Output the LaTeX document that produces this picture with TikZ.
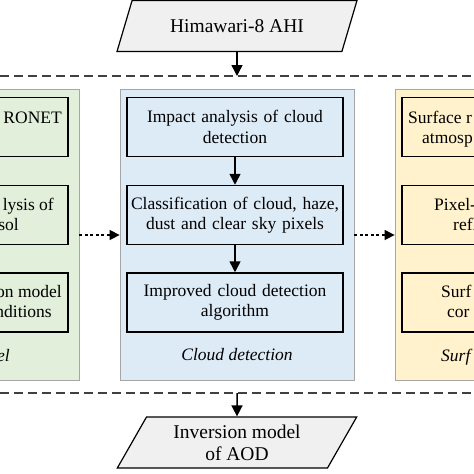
\documentclass[tikz,border=0pt]{standalone}
\usepackage{fontspec}
\setmainfont{Liberation Serif}
\usetikzlibrary{shapes.geometric,arrows.meta}

\definecolor{modfill}{RGB}{226,239,218}
\definecolor{detfill}{RGB}{221,235,247}
\definecolor{surffill}{RGB}{255,242,204}

\begin{document}
\begin{tikzpicture}[x=1pt,y=-1pt,font=\fontsize{17.5}{20.5}\selectfont,
    panel/.style={draw=black!35,line width=.8pt,minimum width=234pt,minimum height=291pt,inner sep=0pt},
    stage/.style={draw,line width=1.5pt,minimum width=216pt,minimum height=59pt,text width=210pt,align=center,inner sep=0pt},
    io/.style={trapezium,trapezium left angle=63,trapezium right angle=117,trapezium stretches=true,
      draw,line width=1.2pt,fill=black!6,minimum width=240pt,minimum height=51pt,align=center,
      font=\fontsize{19.5}{22}\selectfont},
    flow/.style={-{Triangle[length=11pt,width=11pt]},line width=1.5pt},
    link/.style={-{Triangle[length=10pt,width=10pt]},line width=1.5pt,dash pattern=on 3pt off 2.5pt},
    sep/.style={draw=black!75,line width=1.5pt,dash pattern=on 9pt off 5pt},
    tag/.style={font=\fontsize{17.5}{20.5}\selectfont\itshape}]
  \path[use as bounding box] (0,0) rectangle (474,474);
  \clip (0,0) rectangle (474,474);

  % input / output
  \node[io] (ahi) at (237,26) {Himawari-8 AHI};
  \node[io] (aod) at (237,442.5) {Inversion model\\of AOD};
  \coordinate (tl) at (0,76);   \coordinate (tr) at (474,76);
  \coordinate (bl) at (0,393);  \coordinate (br) at (474,393);

  % the three panels
  \node[panel,fill=modfill] (modpanel) at (-38,234.5) {};
  \node[panel,fill=detfill] (detpanel) at (237,234.5) {};
  \node[panel,fill=surffill] (surfpanel) at (512,234.5) {};

  % aerosol model (cut off at the left)
  \node[stage] (mod1) at (-40,127) {};
  \node[stage] (mod2) at (-40,215) {};
  \node[stage] (mod3) at (-40,302.5) {};
  \node[anchor=base east,inner sep=0pt] at (62,123) {RONET};
  \node[anchor=base east,inner sep=0pt] at (54,210) {lysis of};
  \node[anchor=base east,inner sep=0pt] at (19,230.5) {sol};
  \node[anchor=base east,inner sep=0pt] at (62,297) {on model};
  \node[anchor=base east,inner sep=0pt] at (52,317.5) {nditions};
  \node[tag,anchor=base east,inner sep=0pt] at (10,361) {el};

  % cloud detection
  \node[stage] (imp) at (235,127) {Impact analysis of cloud\\detection};
  \node[stage] (cls) at (235,215) {Classification of cloud, haze,\\dust and clear sky pixels};
  \node[stage] (alg) at (235,302.5) {Improved cloud detection\\algorithm};
  \node[tag] (dettag) at (237,355) {Cloud detection};

  % surface reflectance (cut off at the right)
  \node[stage] (surf1) at (510,127) {};
  \node[stage] (surf2) at (510,215) {};
  \node[stage] (surf3) at (510,302.5) {};
  \node[anchor=base west,inner sep=0pt] at (408,123) {Surface r};
  \node[anchor=base west,inner sep=0pt] at (422,143.5) {atmosp};
  \node[anchor=base west,inner sep=0pt] at (434,210) {Pixel-};
  \node[anchor=base west,inner sep=0pt] at (453,230.5) {refle};
  \node[anchor=base west,inner sep=0pt] at (441,297) {Surf};
  \node[anchor=base west,inner sep=0pt] at (447,317.5) {cor};
  \node[tag,anchor=base west,inner sep=0pt] at (441,361) {Surf};

  \draw[sep] (tl) -- (tr);
  \draw[sep] (bl) -- (br);
  \draw[flow] (ahi) -- (ahi |- tl);
  \draw[flow] (aod |- bl) -- (aod);
  \draw[flow] (imp) -- (cls);
  \draw[flow] (cls) -- (alg);
  \draw[link] (modpanel.east |- 0,235) -- (detpanel.west |- 0,235);
  \draw[link] (detpanel.east |- 0,235) -- (surfpanel.west |- 0,235);
\end{tikzpicture}
\end{document}
